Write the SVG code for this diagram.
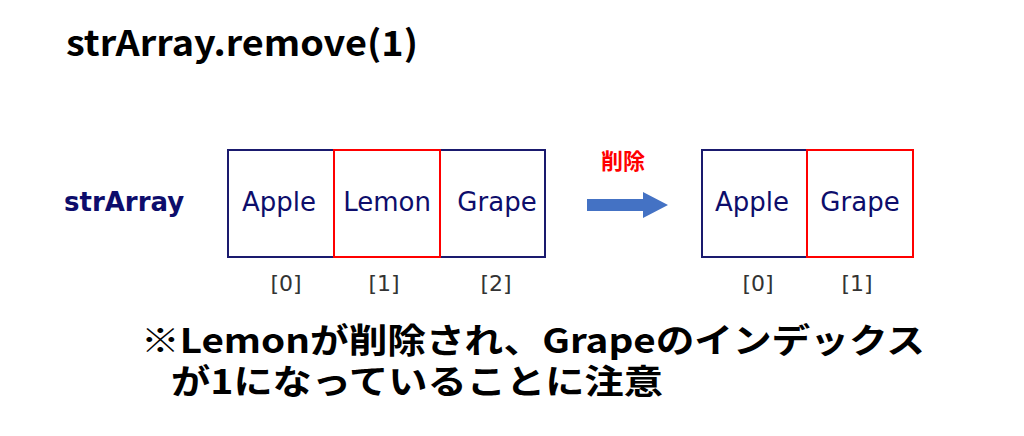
<svg xmlns="http://www.w3.org/2000/svg" width="1024" height="436" viewBox="0 0 1024 436">
<style>
.jp{font-family:"Noto Sans CJK JP","Noto Sans",sans-serif;font-weight:bold;fill:#000}
.cell{font-family:"DejaVu Sans","Noto Sans",sans-serif;font-size:26px;fill:#0D0D6B;text-anchor:middle}
.idx{font-family:"DejaVu Sans","Noto Sans",sans-serif;font-size:22px;fill:#333;text-anchor:middle}
.navy{fill:none;stroke:#1A1A6E;stroke-width:2}
.red{fill:none;stroke:#FF0000;stroke-width:2}
</style>
<rect width="1024" height="436" fill="#fff"/>
<g id="title"><text class="jp" x="66" y="56" font-size="35" textLength="352" lengthAdjust="spacingAndGlyphs">strArray.remove(1)</text></g>
<g id="label"><text x="64" y="211" font-family="DejaVu Sans,sans-serif" font-weight="bold" font-size="26" fill="#0D0D6B">strArray</text></g>
<g id="array-before">
<rect class="navy" x="228" y="150" width="317" height="107"/>
<rect class="red" x="334" y="150" width="106" height="107"/>
<text class="cell" x="279" y="211">Apple</text>
<text class="cell" x="387" y="211">Lemon</text>
<text class="cell" x="497" y="211">Grape</text>
<text class="idx" x="286" y="291">[0]</text>
<text class="idx" x="384" y="291">[1]</text>
<text class="idx" x="496" y="291">[2]</text>
</g>
<g id="connectors">
<polygon points="587,199 643,199 643,192 668,205 643,218 643,211 587,211" fill="#4472C4"/>
<text x="623" y="169" font-family="Noto Sans CJK JP,sans-serif" font-weight="bold" font-size="22" fill="#FF0000" text-anchor="middle">削除</text>
</g>
<g id="array-after">
<rect class="navy" x="702" y="150" width="105" height="107"/>
<rect class="red" x="807" y="150" width="106" height="107"/>
<text class="cell" x="752" y="211">Apple</text>
<text class="cell" x="860" y="211">Grape</text>
<text class="idx" x="758" y="291">[0]</text>
<text class="idx" x="857" y="291">[1]</text>
</g>
<g id="note">
<text class="jp" x="141" y="353" font-size="34" textLength="784" lengthAdjust="spacingAndGlyphs">※Lemonが削除され、Grapeのインデックス</text>
<text class="jp" x="171" y="394" font-size="34" textLength="492" lengthAdjust="spacingAndGlyphs">が1になっていることに注意</text>
</g>
</svg>
